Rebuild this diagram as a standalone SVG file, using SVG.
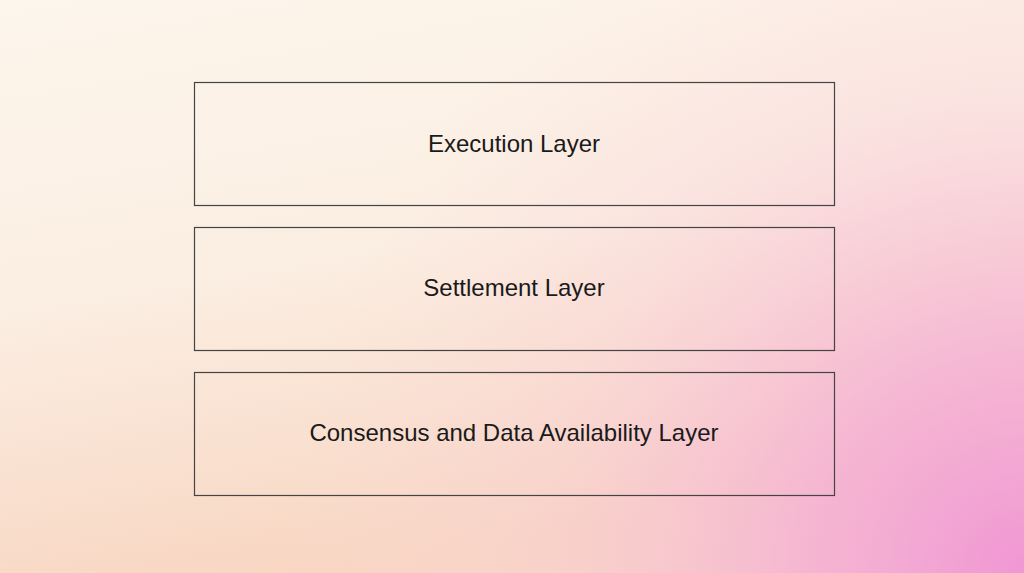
<svg xmlns="http://www.w3.org/2000/svg" width="1024" height="573" viewBox="0 0 1024 573">
<defs>
<linearGradient id="bg" x1="0" y1="0" x2="0.3" y2="1">
<stop offset="0" stop-color="#fdf6ec"/>
<stop offset="0.5" stop-color="#fbeee2"/>
<stop offset="1" stop-color="#f8d6c2"/>
</linearGradient>
<radialGradient id="pink" cx="1024" cy="573" r="740" gradientUnits="userSpaceOnUse">
<stop offset="0" stop-color="#f096d4" stop-opacity="1"/>
<stop offset="0.3" stop-color="#f4acd6" stop-opacity="0.75"/>
<stop offset="0.65" stop-color="#f9c8d8" stop-opacity="0.3"/>
<stop offset="1" stop-color="#fbd8dc" stop-opacity="0"/>
</radialGradient>
<style>
.box{fill:none;stroke:#444;stroke-width:1.2}
.lbl{font-family:"Liberation Sans",Arial,sans-serif;font-size:24px;fill:#1a1a1a;text-anchor:middle}
</style>
</defs>
<rect width="1024" height="573" fill="url(#bg)"/>
<rect width="1024" height="573" fill="url(#pink)"/>
<g id="execution">
<rect class="box" x="194.5" y="82.5" width="640" height="123"/>
<text class="lbl" x="514" y="151.5">Execution Layer</text>
</g>
<g id="settlement">
<rect class="box" x="194.5" y="227.5" width="640" height="123"/>
<text class="lbl" x="514" y="296">Settlement Layer</text>
</g>
<g id="consensus">
<rect class="box" x="194.5" y="372.5" width="640" height="123"/>
<text class="lbl" x="514" y="441">Consensus and Data Availability Layer</text>
</g>
<g id="connectors"></g>
</svg>
